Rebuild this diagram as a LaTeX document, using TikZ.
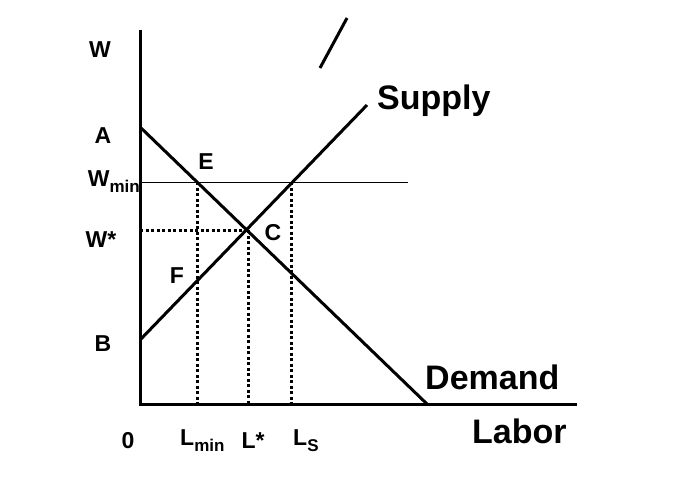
\documentclass[tikz,border=0pt]{standalone}
\usepackage{fontspec}
\setmainfont{Liberation Sans}
\begin{document}
\begin{tikzpicture}[x=1pt,y=-1pt,
  thick line/.style={line width=3pt},
  dotline/.style={line width=3pt,dash pattern=on 3pt off 2.5pt},
  lab/.style={font=\bfseries\fontsize{23}{25}\selectfont,inner sep=0pt},
  big/.style={font=\bfseries\fontsize{34}{36}\selectfont,inner sep=0pt}]
\useasboundingbox (0,0) rectangle (684,484);
\coordinate (O) at (140,404);
\coordinate (Ytop) at (140,30);
\coordinate (Xend) at (577,404);
\coordinate (D1) at (140,127);
\coordinate (D2) at (427,404);
\coordinate (S1) at (140,340);
\coordinate (S2) at (367,105);
\draw[thick line] (Ytop) -- (O) -- (Xend);
\draw[thick line] (D1) -- (D2);
\draw[thick line] (S1) -- (S2);
\coordinate (Wm0) at (140,182);
\coordinate (Wm1) at (408,182);
\draw[line width=0.8pt] (Wm0) -- (Wm1);
\coordinate (Ws0) at (140,230);
\coordinate (C0) at (248,230);
\draw[dotline] (Ws0) -- (C0);
\coordinate (Ea) at (197,182); \coordinate (Eb) at (197,404);
\coordinate (Ca) at (248,230); \coordinate (Cb) at (248,404);
\coordinate (La) at (291,182); \coordinate (Lb) at (291,404);
\draw[dotline] (Ea) -- (Eb);
\draw[dotline] (Ca) -- (Cb);
\draw[dotline] (La) -- (Lb);
\coordinate (T1) at (320,68); \coordinate (T2) at (347,18);
\draw[line width=3pt] (T1) -- (T2);
\node[lab] (w) at (100,50) {W};
\node[lab] (a) at (103,136) {A};
\node[lab,anchor=east] (wmin) at (140,182) {W\raisebox{-6pt}{\fontsize{17}{18}\selectfont min}};
\node[lab] (wstar) at (101,240) {W*};
\node[lab] (b) at (103,344) {B};
\node[lab] (e) at (206,162) {E};
\node[lab] (c) at (273,233) {C};
\node[lab] (f) at (177,276) {F};
\node[big,anchor=west] (sup) at (377,101) {Supply};
\node[big,anchor=west] (dem) at (425,377) {Demand};
\node[big,anchor=west] (labor) at (472,431) {Labor};
\node[lab] (zero) at (128,441) {0};
\node[lab,anchor=west] (lmin) at (180,441) {L\raisebox{-6pt}{\fontsize{17}{18}\selectfont min}};
\node[lab] (lstar) at (253,441) {L*};
\node[lab,anchor=west] (ls) at (293,441) {L\raisebox{-6pt}{\fontsize{17}{18}\selectfont S}};
\end{tikzpicture}
\end{document}
